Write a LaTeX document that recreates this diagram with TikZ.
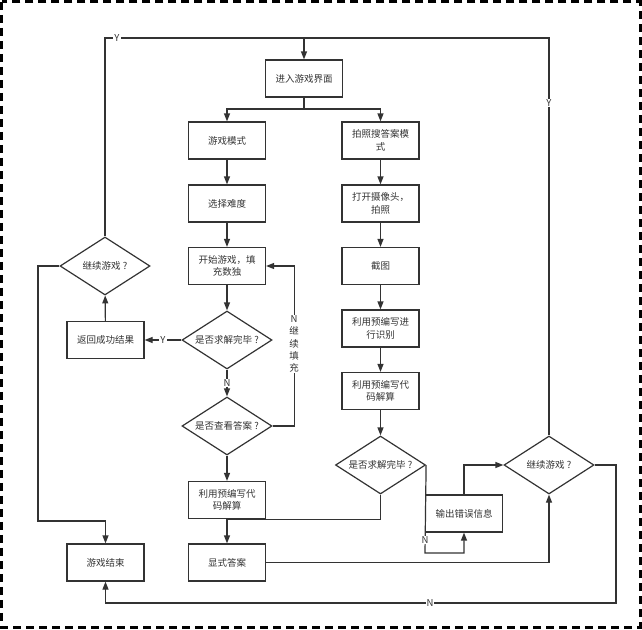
\documentclass[tikz,border=0pt]{standalone}
\usepackage{fontspec}
\setmainfont{Noto Sans CJK SC}
\usetikzlibrary{shapes.geometric,arrows.meta}
\definecolor{ink}{HTML}{333333}
\begin{document}
\begin{tikzpicture}[x=1pt,y=-1pt,
  font=\fontsize{9.5}{12.3}\selectfont, text=ink,
  box/.style={draw=ink, line width=1.2pt, minimum width=77pt, minimum height=37pt, inner sep=0pt, align=center},
  dia/.style={diamond, draw=ink, line width=1.2pt, minimum width=90pt, minimum height=58pt, inner sep=0pt},
  link/.style={draw=ink, line width=1.2pt},
  arr/.style={link, -{Triangle[length=8pt,width=6pt]}},
  lab/.style={fill=white, inner sep=1pt}]
\useasboundingbox (0,0) rectangle (642,629);
% dashed frame
\draw[line width=2.6pt, dash pattern=on 8pt off 5pt] (1.8,1.8) rectangle (640.2,627.2);

% nodes
\node[box] (enter)  at (304,78.5)  {进入游戏界面};
\node[box] (game)   at (227,140.5) {游戏模式};
\node[box] (photo)  at (380.5,140.5) {拍照搜答案模\\式};
\node[box] (level)  at (227,203.5) {选择难度};
\node[box] (camera) at (380.5,203.5) {打开摄像头，\\拍照};
\node[box] (start)  at (227,266) {开始游戏，填\\充数独};
\node[box] (crop)   at (380.5,266) {截图};
\node[box] (recog)  at (380.5,328.5) {利用预编写进\\行识别};
\node[box] (solveR) at (380.5,391) {利用预编写代\\码解算};
\node[dia] (doneR)  at (380.5,465) {\makebox[0pt]{是否求解完毕 ?}};
\node[box] (err)    at (464,513.5) {输出错误信息};
\node[dia] (contR)  at (549,465) {\makebox[0pt]{继续游戏 ?}};
\node[dia] (doneL)  at (227,340) {\makebox[0pt]{是否求解完毕 ?}};
\node[box] (back)   at (105.5,340) {返回成功结果};
\node[dia] (contL)  at (105,266) {\makebox[0pt]{继续游戏 ?}};
\node[dia] (peek)   at (227,426) {\makebox[0pt]{是否查看答案 ?}};
\node[box] (solveL) at (227,500) {利用预编写代\\码解算};
\node[box] (show)   at (227,562.5) {显式答案};
\node[box] (over)   at (105.5,562.5) {游戏结束};

% helper points
\coordinate (topL) at (105,38);
\coordinate (topR) at (549,38);
\coordinate (topM) at (304,38);
\coordinate (fork) at (304,109);
\coordinate (joinY) at (227,519.5);
\coordinate (nloop) at (425,553);
\coordinate (br) at (616,603);
\coordinate (bl) at (38,521);

% top loop back to the start screen
\draw[link] (contL.north) -- (topL) -- (topR) -- (contR.north);
\draw[arr] (topM) -- (enter.north);
\node[lab] at (117,38) {Y};
\node[lab] at (549,103) {Y};

% mode split
\draw[link] (enter.south) -- (fork);
\draw[arr] (fork) -| (game.north);
\draw[arr] (fork) -| (photo.north);

% left column
\draw[arr] (game) -- (level);
\draw[arr] (level) -- (start);
\draw[arr] (start) -- (doneL);
\draw[arr] (doneL.west) -- (back.east);
\node[lab] at (163,340) {Y};
\draw[arr] (back) -- (contL);
\draw[arr] (doneL) -- (peek);
\node[lab] at (227,383) {N};
\draw[arr] (peek.east) -- ++(22,0) |- (start.east);
\node[lab, align=center] at (294,344) {N\\继\\续\\填\\充};
\draw[arr] (peek) -- (solveL);
\draw[arr] (solveL) -- (show);

% right column
\draw[arr] (photo) -- (camera);
\draw[arr] (camera) -- (crop);
\draw[arr] (crop) -- (recog);
\draw[arr] (recog) -- (solveR);
\draw[arr] (solveR) -- (doneR);
\draw[link] (doneR.south) |- (joinY);
\draw[arr] (doneR.east) -- (nloop) -| (err.south);
\node[lab] at (425,540) {N};
\draw[arr] (err.north) |- (contR.west);
\draw[arr] (show.east) -| (contR.south);

% ending paths
\draw[arr] (contR.east) -| (br) -| (over.south);
\node[lab] at (430,603) {N};
\draw[arr] (contL.west) -| (bl) -| (over.north);
\end{tikzpicture}
\end{document}
